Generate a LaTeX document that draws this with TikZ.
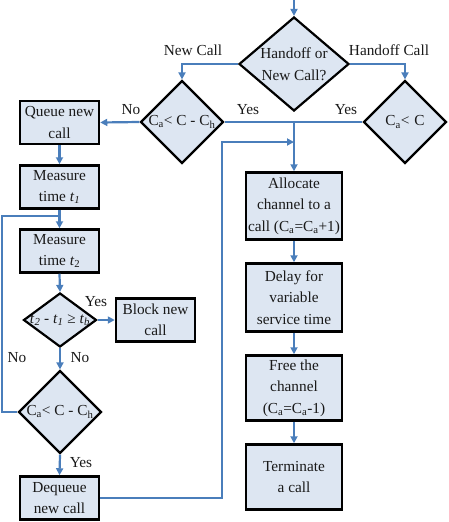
\documentclass[tikz,border=0pt]{standalone}
\usepackage{fontspec}
\setmainfont{Liberation Serif}
\usetikzlibrary{shapes.geometric,arrows.meta}
\definecolor{boxfill}{RGB}{221,230,242}
\definecolor{flow}{RGB}{74,126,187}
\definecolor{ink}{RGB}{25,25,25}
\newcommand\sbs[1]{\textsubscript{#1}}
\begin{document}
\begin{tikzpicture}[x=1pt,y=-1pt,
  every node/.style={font=\fontsize{15.3}{21.5}\selectfont, text=ink},
  box/.style={draw=black, line width=2.5pt, fill=boxfill, align=center, inner sep=0pt,
              minimum width=79pt, minimum height=43pt},
  tallbox/.style={box, minimum width=96pt, minimum height=67pt},
  dia/.style={diamond, draw=black, line width=2.2pt, fill=boxfill, inner sep=0pt},
  lbl/.style={inner sep=0pt},
  flowline/.style={draw=flow, line width=2.2pt},
  arr/.style={flowline, -{Triangle[length=7pt,width=7pt]}}
]
\useasboundingbox (0,0) rectangle (448,522);

% decisions
\node[dia, minimum width=110pt, minimum height=94pt,
      label={[align=center]center:Handoff or\\New Call?}] (d1) at (294,64) {};
\node[dia, minimum width=83pt, minimum height=83pt,
      label={center:C\sbs{a}< C - C\sbs{h}}] (d2) at (182,122) {};
\node[dia, minimum width=83pt, minimum height=83pt,
      label={center:C\sbs{a}<\,\,C}] (d3) at (405,122) {};
\node[dia, minimum width=73pt, minimum height=54pt,
      label={center:\textit{t}\sbs{\textit{2}} - \textit{t}\sbs{\textit{1}} ≥ \textit{t}\sbs{\textit{b}}}] (dt) at (60,320) {};
\node[dia, minimum width=83pt, minimum height=83pt,
      label={center:C\sbs{a}< C - C\sbs{h}}] (db) at (60,412) {};

% boxes
\node[box] (queue) at (59.5,122.5) {Queue new\\call};
\node[box] (t1) at (59.5,187) {Measure\\time \textit{t}\sbs{\textit{1}}};
\node[box] (t2) at (59.5,251) {Measure\\time \textit{t}\sbs{2}};
\node[box] (block) at (155.5,320) {Block new\\call};
\node[box] (deq) at (59.5,498) {Dequeue\\new call};
\node[tallbox] (alloc) at (294,206) {Allocate\\channel to a\\call (C\sbs{a}=C\sbs{a}+1)};
\node[tallbox, minimum height=68pt] (delay) at (294,297.5) {Delay for\\variable\\service time};
\node[tallbox, minimum height=65pt] (free) at (294,388) {Free the\\channel\\(C\sbs{a}=C\sbs{a}-1)};
\node[tallbox, minimum height=65pt] (term) at (294,477) {Terminate\\a call};

% helper coordinates
\coordinate (top) at (294,0);
\coordinate (j) at (294,122);
\coordinate (lp) at (2,216);
\coordinate (rc) at (222,142);

% connectors
\draw[arr] (top) -- (d1.north);
\draw[arr] (d1.west) -| (d2.north);
\draw[arr] (d1.east) -| (d3.north);
\draw[arr] (d2.west) -- (queue.east);
\draw[flowline] (d2.east) -- (j);
\draw[flowline] (d3.west) -- (j);
\draw[arr] (j) -- (alloc.north);
\draw[arr] (queue.south) -- (t1.north);
\draw[arr] (t1.south) -- (t2.north);
\draw[arr] (t2.south) -- (dt.north);
\draw[arr] (dt.east) -- (block.west);
\draw[arr] (dt.south) -- (db.north);
\draw[arr] (db.south) -- (deq.north);
\draw[flowline] (db.west) -| (lp) -- (lp -| t2.north);
\draw[arr] (deq.east) -| (rc) -- (rc -| alloc.north);
\draw[arr] (alloc.south) -- (delay.north);
\draw[arr] (delay.south) -- (free.north);
\draw[arr] (free.south) -- (term.north);

% labels
\node[lbl] (l1) at (193,50) {New Call};
\node[lbl] (l2) at (389,50) {Handoff Call};
\node[lbl] (l3) at (131,110) {No};
\node[lbl] (l4) at (248,110) {Yes};
\node[lbl] (l5) at (346,110) {Yes};
\node[lbl] (l6) at (96,302) {Yes};
\node[lbl] (l7) at (17,358) {No};
\node[lbl] (l8) at (80,358) {No};
\node[lbl] (l9) at (81,463) {Yes};
\end{tikzpicture}
\end{document}
